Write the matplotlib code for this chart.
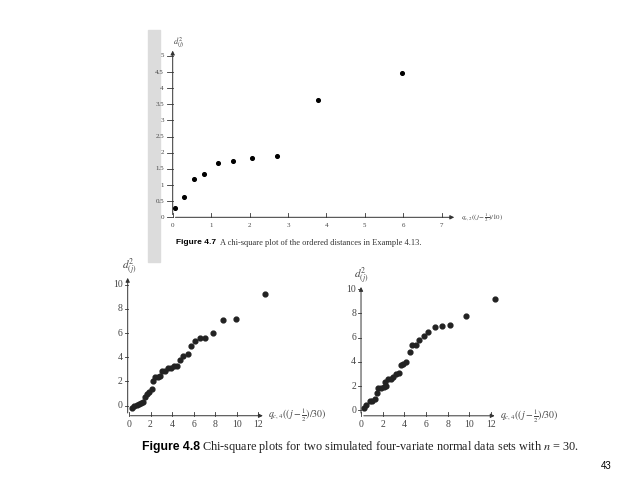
import matplotlib
matplotlib.use("Agg")
import matplotlib.pyplot as plt
from matplotlib.patches import Rectangle
import numpy as np

plt.rcParams['font.family'] = ['Liberation Serif', 'DejaVu Serif']
plt.rcParams['mathtext.fontset'] = 'stix'

top_x = [0.07, 0.3, 0.55, 0.82, 1.17, 1.57, 2.07, 2.72, 3.78, 5.98]
top_y = [0.3, 0.62, 1.18, 1.33, 1.68, 1.75, 1.84, 1.91, 3.62, 4.47]
top_xticks = [0, 1, 2, 3, 4, 5, 6, 7]
top_yticks = [0, 0.5, 1, 1.5, 2, 2.5, 3, 3.5, 4, 4.5, 5]
top_yticklabels = ['0', '0.5', '1', '1.5', '2', '2.5', '3', '3.5', '4', '4.5', '5']

left_x = [0.3, 0.5, 0.7, 0.95, 1.15, 1.3, 1.5, 1.7, 1.9, 2.1, 2.2, 2.45, 2.7, 2.9, 3.1,
          3.35, 3.6, 3.9, 4.2, 4.45, 4.75, 5.05, 5.45, 5.75, 6.15, 6.6, 7.1, 7.8, 8.7, 9.9, 12.6]
left_y = [-0.2, -0.05, 0.05, 0.15, 0.25, 0.3, 0.75, 0.95, 1.15, 1.4, 2.0, 2.4, 2.35, 2.45, 2.85,
          2.9, 3.15, 3.1, 3.25, 3.3, 3.8, 4.1, 4.25, 4.95, 5.35, 5.6, 5.6, 6.05, 7.1, 7.15, 9.2]

right_x = [0.3, 0.5, 0.8, 1.0, 1.3, 1.5, 1.6, 1.85, 2.1, 2.2, 2.35, 2.5, 2.75, 3.0, 3.2, 3.5,
           3.7, 3.9, 4.2, 4.5, 4.7, 5.1, 5.4, 5.8, 6.2, 6.8, 7.5, 8.2, 9.7, 12.4]
right_y = [0.2, 0.4, 0.75, 0.75, 0.95, 1.45, 1.8, 1.85, 1.9, 2.3, 2.0, 2.55, 2.6, 2.75, 3.0, 3.1,
           3.7, 3.85, 3.95, 4.8, 5.35, 5.35, 5.8, 6.1, 6.45, 6.9, 6.95, 7.05, 7.8, 9.2]
bot_xticks = [0, 2, 4, 6, 8, 10, 12]
bot_yticks = [0, 2, 4, 6, 8, 10]

W, H = 638, 493
fig = plt.figure(figsize=(W / 100, H / 100), dpi=100)

def px_axes(l, r, t, b):
    return fig.add_axes([l / W, 1 - b / H, (r - l) / W, (b - t) / H])

# gray strip of scanned page
fig.patches.append(Rectangle((148 / W, 1 - 262 / H), 12 / W, 232 / H,
                             transform=fig.transFigure, color='#dcdcdc', zorder=-5))

def style(ax, xlim, ylim, x0, y0, xend, yend, xt, yt, ytl, fs):
    ax.set_xlim(*xlim); ax.set_ylim(*ylim)
    for s in ax.spines.values():
        s.set_visible(False)
    ax.patch.set_alpha(0)
    ax.annotate('', xy=(xend, y0), xytext=(x0, y0),
                arrowprops=dict(arrowstyle='-|>', lw=0.7, color='#333', mutation_scale=6))
    ax.annotate('', xy=(x0, yend), xytext=(x0, y0),
                arrowprops=dict(arrowstyle='-|>', lw=0.7, color='#333', mutation_scale=6))
    ax.set_xticks([]); ax.set_yticks([])
    dx = (xlim[1] - xlim[0]) * 0.012
    dy = (ylim[1] - ylim[0]) * 0.02
    for v in xt:
        ax.plot([v, v], [y0, y0 + dy * 1.2], color='#333', lw=0.6)
        ax.text(v, y0 - dy * 1.5, str(v), ha='center', va='top', fontsize=fs, color='#444')
    for v, lab in zip(yt, ytl):
        ax.plot([x0, x0 - dx * 1.5], [v, v], color='#333', lw=0.6)
        ax.text(x0 - dx * 2.5, v, lab, ha='right', va='center', fontsize=fs, color='#444',
                clip_on=False, zorder=5)

# top plot
ax1 = px_axes(165, 457, 43, 227)
style(ax1, (-0.2, 7.4), (-0.3, 5.4), 0, 0, 7.4, 5.25, top_xticks, top_yticks, top_yticklabels, 5)
ax1.scatter(top_x, top_y, s=7, color='black', zorder=3)
ax1.text(0.15, 5.35, r'$d^2_{(j)}$', fontsize=6, color='#444', ha='center')
ax1.text(7.5, 0, r'$q_{c,2}((j-\frac{1}{2})/10)$', fontsize=5, color='#444', va='center', clip_on=False)
fig.text(176 / W, 1 - 243 / H, 'Figure 4.7', fontsize=6, weight='bold', family='Liberation Sans', va='center')
fig.text(220 / W, 1 - 243 / H, 'A chi-square plot of the ordered distances in Example 4.13.',
         fontsize=6, va='center', color='#333')

# bottom left
ax2 = px_axes(123.6, 285, 266.6, 420.2)
style(ax2, (-0.5, 14.5), (-1.2, 11.5), -0.12, -0.83, 12.7, 10.8, bot_xticks, bot_yticks,
      [str(v) for v in bot_yticks], 7)
ax2.scatter(left_x, left_y, s=12, color='#222', zorder=3)
ax2.text(0.0, 11.3, r'$d^2_{(j)}$', fontsize=8, color='#444', ha='center')
ax2.text(12.9, -0.83, r'$q_{c,4}((j-\frac{1}{2})/30)$', fontsize=7, color='#444', va='center', clip_on=False)

# bottom right
ax3 = px_axes(355.6, 518, 270.8, 424.9)
style(ax3, (-0.5, 14.5), (-1.2, 11.5), 0, -0.45, 12.6, 10.4, bot_xticks, bot_yticks,
      [str(v) for v in bot_yticks], 7)
ax3.scatter(right_x, right_y, s=12, color='#222', zorder=3)
ax3.text(0.0, 10.9, r'$d^2_{(j)}$', fontsize=8, color='#444', ha='center')
ax3.text(12.8, -0.45, r'$q_{c,4}((j-\frac{1}{2})/30)$', fontsize=7, color='#444', va='center', clip_on=False)

fig.text(142 / W, 1 - 447 / H, 'Figure 4.8', fontsize=8.8, weight='bold', family='Liberation Sans', va='center')
fig.text(202 / W, 1 - 447 / H, 'Chi-square plots for two simulated four-variate normal data sets with $n$ = 30.',
         fontsize=8.8, va='center', color='#222')
fig.text(606 / W, 1 - 466 / H, '43', fontsize=7, family='Liberation Sans', va='center', ha='center')

fig.savefig('out.png', dpi=100)
